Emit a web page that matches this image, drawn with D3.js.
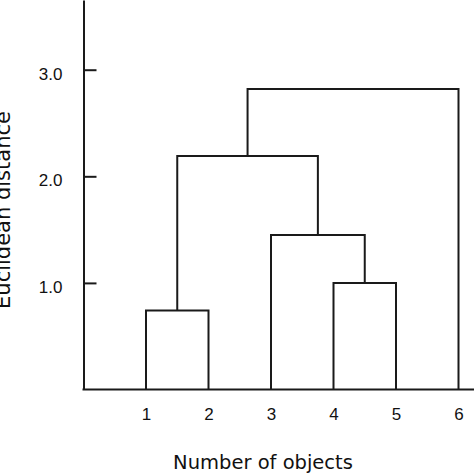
<!DOCTYPE html>
<html>
<head>
<meta charset="utf-8">
<script src="https://cdn.jsdelivr.net/npm/d3@7"></script>
<style>
  html, body { margin: 0; padding: 0; background: #fff; }
  svg { display: block; }
</style>
</head>
<body>
<script>
// leaves of the dendrogram (objects 1..6)
var leaves = [1, 2, 3, 4, 5, 6];
// merges, scipy-linkage style: ids 0..5 are leaves, each merge gets the next id (6, 7, ...)
var mergeA = [0, 3, 2, 6, 9];
var mergeB = [1, 4, 7, 8, 5];
var mergeHeight = [0.74, 1.0, 1.45, 2.19, 2.82];
var yTicks = [1, 2, 3];

var width = 474;
var height = 474;
var axisX = 83.5;
var baseY = 389.5;

var svg = d3.select("body")
    .append("svg")
    .attr("width", width)
    .attr("height", height);

var x = d3.scaleLinear().domain([1, 6]).range([146, 458.5]);
var y = d3.scaleLinear().domain([0, 3.654]).range([baseY, 0]);

// position of every cluster: leaves first, then merges
var nodeX = leaves.map(function(d) { return x(d); });
var nodeH = leaves.map(function() { return 0; });
for (var i = 0; i < mergeA.length; i++) {
    nodeX.push((nodeX[mergeA[i]] + nodeX[mergeB[i]]) / 2);
    nodeH.push(mergeHeight[i]);
}

var links = d3.range(mergeA.length).map(function(i) {
    return { a: mergeA[i], b: mergeB[i], h: mergeHeight[i] };
});

svg.selectAll("path.link")
    .data(links)
    .enter()
    .append("path")
    .attr("class", "link")
    .attr("fill", "none")
    .attr("stroke", "#1a1a1a")
    .attr("stroke-width", 2)
    .attr("d", function(d) {
        return "M" + nodeX[d.a] + "," + y(nodeH[d.a]) +
               "V" + y(d.h) +
               "H" + nodeX[d.b] +
               "V" + y(nodeH[d.b]);
    });

// y axis, ticks pointing inward
var yAxis = svg.append("g")
    .attr("transform", "translate(" + axisX + ",0)")
    .call(d3.axisLeft(y)
        .tickValues(yTicks)
        .tickFormat(d3.format(".1f"))
        .tickSizeInner(-13)
        .tickSizeOuter(0)
        .tickPadding(21));
yAxis.select(".domain").attr("stroke", "#1a1a1a").attr("stroke-width", 2);
yAxis.selectAll(".tick line").attr("stroke", "#1a1a1a").attr("stroke-width", 2);
yAxis.selectAll(".tick text")
    .attr("fill", "#111")
    .attr("dy", "0.55em")
    .style("font-family", "'Liberation Sans', Arial, sans-serif")
    .style("font-size", "17px");

// baseline
svg.append("line")
    .attr("x1", axisX - 1)
    .attr("x2", width)
    .attr("y1", baseY)
    .attr("y2", baseY)
    .attr("stroke", "#1a1a1a")
    .attr("stroke-width", 2);

// leaf labels
var xAxis = svg.append("g")
    .attr("transform", "translate(0," + baseY + ")")
    .call(d3.axisBottom(x)
        .tickValues(leaves)
        .tickFormat(d3.format("d"))
        .tickSize(0)
        .tickPadding(18));
xAxis.select(".domain").remove();
xAxis.selectAll(".tick text")
    .attr("fill", "#111")
    .style("font-family", "'Liberation Sans', Arial, sans-serif")
    .style("font-size", "17px");

// axis titles
svg.append("text")
    .attr("x", 263)
    .attr("y", 469)
    .attr("text-anchor", "middle")
    .style("font-family", "'DejaVu Sans', sans-serif")
    .style("font-size", "19.5px")
    .attr("fill", "#111")
    .text("Number of objects");

svg.append("text")
    .attr("transform", "translate(10,210) rotate(-90)")
    .attr("text-anchor", "middle")
    .style("font-family", "'DejaVu Sans', sans-serif")
    .style("font-size", "21px")
    .attr("fill", "#111")
    .text("Euclidean distance");
</script>
</body>
</html>
